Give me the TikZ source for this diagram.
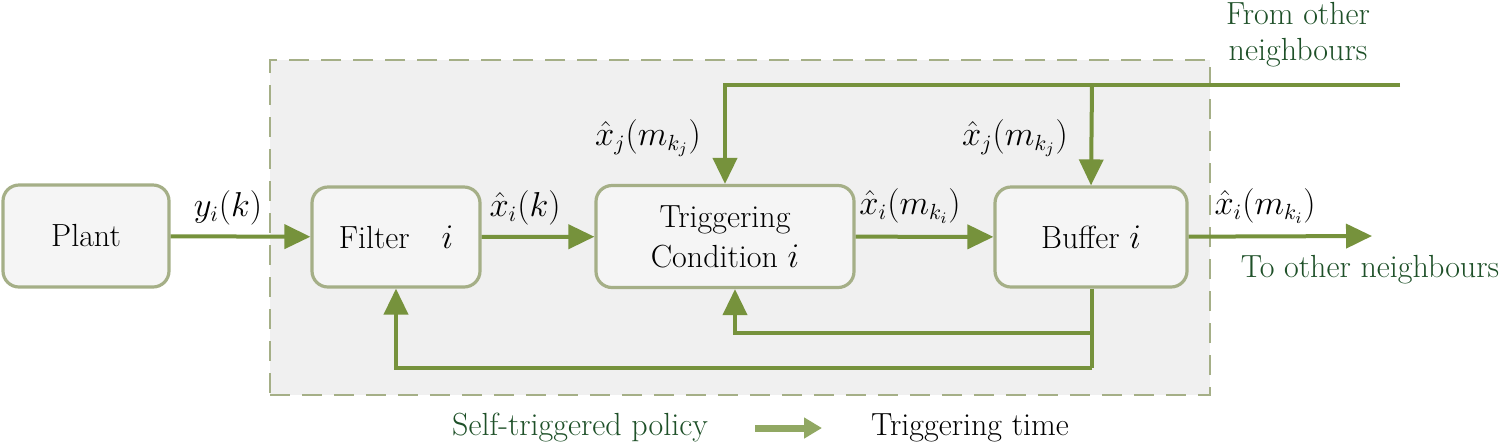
\documentclass[tikz,border=0pt]{standalone}
\usetikzlibrary{arrows.meta}
\definecolor{bord}{RGB}{165,175,135}
\definecolor{arr}{RGB}{118,146,60}
\definecolor{dgreen}{RGB}{30,80,40}
\begin{document}
\begin{tikzpicture}[x=0.5pt,y=-0.5pt,
  blk/.style={draw=bord,line width=1.6pt,rounded corners=8pt,fill=gray!8,font=\rmfamily\fontsize{16}{18}\selectfont,align=center},
  con/.style={draw=arr,line width=2pt},
  ar/.style={con,-{Triangle[length=13pt,width=12pt]}},
  lab/.style={font=\rmfamily\fontsize{16}{18}\selectfont}]
\useasboundingbox (0,0) rectangle (1502,447);
\node[draw=bord,dashed,dash pattern=on 10pt off 6pt,line width=1.4pt,fill=gray!12,minimum width=470pt,minimum height=167.5pt,inner sep=0] (frame) at (740,227.5) {};
\node[blk,minimum width=83pt,minimum height=51pt] (plant) at (86,236) {Plant};
\node[blk,minimum width=84pt,minimum height=50pt] (filter) at (396,237) {Filter\quad $i$};
\node[blk,minimum width=129pt,minimum height=51pt] (trig) at (725,236.5) {Triggering\\[2pt]Condition $i$};
\node[blk,minimum width=96pt,minimum height=50pt] (buf) at (1091,237) {Buffer $i$};
\coordinate (out) at (1372,236);
\coordinate (tr) at (1400,85);
\coordinate (tl) at (725,85);
\coordinate (tb) at (1092,85);
\coordinate (b1) at (1092,333);
\coordinate (b2) at (1092,368);
\draw[ar] (plant) -- (filter);
\draw[ar] (filter) -- (trig);
\draw[ar] (trig) -- (buf);
\draw[ar] (buf) -- (out);
\draw[ar] (tr) -- (tl) -- (trig.north);
\draw[ar] (tb) -- (buf.north);
\draw[con] (buf.south -| b2) -- (b2);
\draw[ar] (b2) -| (filter.south);
\draw[ar] (b1) -| ([xshift=5]trig.south);
\node[lab] (l1) at (228,208) {$y_i(k)$};
\node[lab] (l2) at (525,208) {$\hat{x}_i(k)$};
\node[lab] (l3) at (648,138) {$\hat{x}_j(m_{k_j})$};
\node[lab] (l4) at (910,206) {$\hat{x}_i(m_{k_i})$};
\node[lab] (l5) at (1015,138) {$\hat{x}_j(m_{k_j})$};
\node[lab] (l6) at (1265,206) {$\hat{x}_i(m_{k_i})$};
\node[lab,text=dgreen,align=center] (from) at (1298,35) {From other\\neighbours};
\node[lab,text=dgreen] (to) at (1370,270) {To other neighbours};
\node[lab,text=dgreen] (leg1) at (580,428) {Self-triggered policy};
\coordinate (la) at (755,428);
\coordinate (lb) at (822,428);
\draw[draw=arr!80,line width=3.5pt,-{Triangle[length=9pt,width=10pt]}] (la) -- (lb);
\node[lab] (leg2) at (970,428) {Triggering time};
\end{tikzpicture}
\end{document}
